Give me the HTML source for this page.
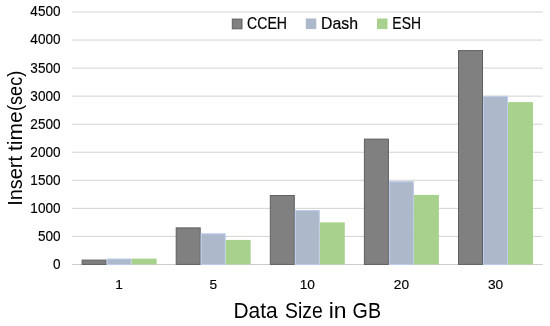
<!DOCTYPE html>
<html><head><meta charset="utf-8"><title>Insert time chart</title>
<style>html,body{margin:0;padding:0;background:#fff}svg{display:block}text{font-family:"Liberation Sans",Arial,sans-serif;fill:#000}</style></head>
<body>
<svg width="550" height="326" viewBox="0 0 550 326">
<rect width="550" height="326" fill="#fff"/>
<rect x="72" y="11.50" width="470.6" height="1" fill="#d3d3d3"/>
<rect x="72" y="39.55" width="470.6" height="1" fill="#d3d3d3"/>
<rect x="72" y="67.60" width="470.6" height="1" fill="#d3d3d3"/>
<rect x="72" y="95.65" width="470.6" height="1" fill="#d3d3d3"/>
<rect x="72" y="123.70" width="470.6" height="1" fill="#d3d3d3"/>
<rect x="72" y="151.75" width="470.6" height="1" fill="#d3d3d3"/>
<rect x="72" y="179.80" width="470.6" height="1" fill="#d3d3d3"/>
<rect x="72" y="207.85" width="470.6" height="1" fill="#d3d3d3"/>
<rect x="72" y="235.90" width="470.6" height="1" fill="#d3d3d3"/>
<rect x="72" y="263.95" width="470.6" height="1" fill="#cbcbcb"/>
<text transform="translate(60.5,16.40) scale(0.955,1)" font-size="14.2" text-anchor="end" stroke="#000" stroke-width="0.15">4500</text>
<text transform="translate(60.5,44.45) scale(0.955,1)" font-size="14.2" text-anchor="end" stroke="#000" stroke-width="0.15">4000</text>
<text transform="translate(60.5,72.50) scale(0.955,1)" font-size="14.2" text-anchor="end" stroke="#000" stroke-width="0.15">3500</text>
<text transform="translate(60.5,100.55) scale(0.955,1)" font-size="14.2" text-anchor="end" stroke="#000" stroke-width="0.15">3000</text>
<text transform="translate(60.5,128.60) scale(0.955,1)" font-size="14.2" text-anchor="end" stroke="#000" stroke-width="0.15">2500</text>
<text transform="translate(60.5,156.65) scale(0.955,1)" font-size="14.2" text-anchor="end" stroke="#000" stroke-width="0.15">2000</text>
<text transform="translate(60.5,184.70) scale(0.955,1)" font-size="14.2" text-anchor="end" stroke="#000" stroke-width="0.15">1500</text>
<text transform="translate(60.5,212.75) scale(0.955,1)" font-size="14.2" text-anchor="end" stroke="#000" stroke-width="0.15">1000</text>
<text transform="translate(60.5,240.80) scale(0.955,1)" font-size="14.2" text-anchor="end" stroke="#000" stroke-width="0.15">500</text>
<text transform="translate(60.5,268.85) scale(0.955,1)" font-size="14.2" text-anchor="end" stroke="#000" stroke-width="0.15">0</text>
<rect x="82.1" y="260.1" width="24" height="4.3" fill="#808080" stroke="#5f5f5f" stroke-width="1"/>
<rect x="107.1" y="259.0" width="24" height="5.4" fill="#adb9ca" stroke="#bccdec" stroke-width="1"/>
<rect x="131.6" y="258.6" width="25" height="5.8" fill="#a9d18e"/>
<text x="119.1" y="288.8" font-size="13.7" text-anchor="middle" stroke="#000" stroke-width="0.15">1</text>
<rect x="176.2" y="227.9" width="24" height="36.5" fill="#808080" stroke="#5f5f5f" stroke-width="1"/>
<rect x="201.2" y="233.8" width="24" height="30.6" fill="#adb9ca" stroke="#bccdec" stroke-width="1"/>
<rect x="225.7" y="239.9" width="25" height="24.5" fill="#a9d18e"/>
<text x="213.2" y="288.8" font-size="13.7" text-anchor="middle" stroke="#000" stroke-width="0.15">5</text>
<rect x="270.3" y="195.5" width="24" height="68.9" fill="#808080" stroke="#5f5f5f" stroke-width="1"/>
<rect x="295.3" y="210.5" width="24" height="53.9" fill="#adb9ca" stroke="#bccdec" stroke-width="1"/>
<rect x="319.8" y="222.4" width="25" height="42.0" fill="#a9d18e"/>
<text x="307.3" y="288.8" font-size="13.7" text-anchor="middle" stroke="#000" stroke-width="0.15">10</text>
<rect x="364.4" y="139.1" width="24" height="125.3" fill="#808080" stroke="#5f5f5f" stroke-width="1"/>
<rect x="389.4" y="181.7" width="24" height="82.8" fill="#adb9ca" stroke="#bccdec" stroke-width="1"/>
<rect x="413.9" y="194.9" width="25" height="69.5" fill="#a9d18e"/>
<text x="401.4" y="288.8" font-size="13.7" text-anchor="middle" stroke="#000" stroke-width="0.15">20</text>
<rect x="458.5" y="50.6" width="24" height="213.8" fill="#808080" stroke="#5f5f5f" stroke-width="1"/>
<rect x="483.5" y="96.3" width="24" height="168.1" fill="#adb9ca" stroke="#bccdec" stroke-width="1"/>
<rect x="508.0" y="102.1" width="25" height="162.3" fill="#a9d18e"/>
<text x="495.5" y="288.8" font-size="13.7" text-anchor="middle" stroke="#000" stroke-width="0.15">30</text>
<rect x="232.3" y="19.1" width="9.7" height="9.7" fill="#808080" stroke="#5f5f5f" stroke-width="1"/>
<rect x="305.8" y="18.5" width="10.5" height="10.6" fill="#adb9ca"/>
<rect x="377" y="18.5" width="10.5" height="10.6" fill="#a9d18e"/>
<text x="246.98" y="29.2" font-size="16.6" stroke="#000" stroke-width="0.2" textLength="40.07" lengthAdjust="spacingAndGlyphs">CCEH</text>
<text x="321.10" y="29.2" font-size="16.6" stroke="#000" stroke-width="0.2" textLength="36.92" lengthAdjust="spacingAndGlyphs">Dash</text>
<text x="392.36" y="29.2" font-size="16.6" stroke="#000" stroke-width="0.2" textLength="28.57" lengthAdjust="spacingAndGlyphs">ESH</text>
<text y="318.2" font-size="22"><tspan x="233.38" textLength="44.22" lengthAdjust="spacingAndGlyphs">Data</tspan> <tspan x="285.02" textLength="37.64" lengthAdjust="spacingAndGlyphs">Size</tspan> <tspan x="328.67" textLength="17.82" lengthAdjust="spacingAndGlyphs">in</tspan> <tspan x="352.61" textLength="28.43" lengthAdjust="spacingAndGlyphs">GB</tspan></text>
<text transform="translate(21.9,0) rotate(-90)" y="0" font-size="20"><tspan x="-205.84" textLength="49.78" lengthAdjust="spacingAndGlyphs">Insert</tspan> <tspan x="-151.02" textLength="39.65" lengthAdjust="spacingAndGlyphs">time</tspan><tspan x="-111.02" textLength="40.25" lengthAdjust="spacingAndGlyphs">(sec)</tspan></text>
</svg>
</body></html>
